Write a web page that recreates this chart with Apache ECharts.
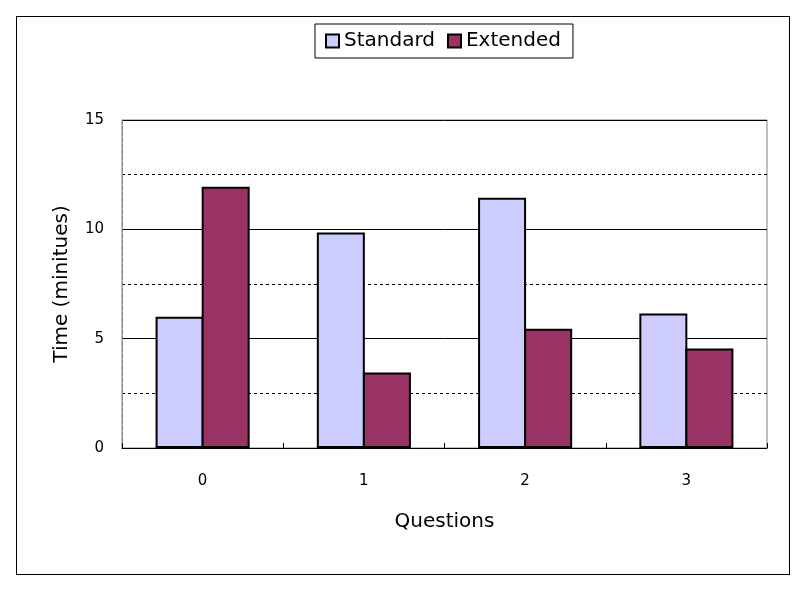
<!DOCTYPE html>
<html>
<head>
<meta charset="utf-8">
<script src="https://cdn.jsdelivr.net/npm/echarts@6/dist/echarts.min.js"></script>
<style>
    html, body { margin: 0; padding: 0; background: #ffffff; }
    #frame {
        position: absolute; left: 16px; top: 16px;
        width: 774px; height: 559px;
        border: 1px solid #000;
        box-sizing: border-box;
    }
    #chart { position: absolute; left: 0; top: 0; width: 807px; height: 592px; }
</style>
</head>
<body>
<div id="frame"></div>
<div id="chart"></div>
<script>
    var questions = ['0', '1', '2', '3'];
    var standard = [6.0, 9.85, 11.45, 6.15];
    var extended = [11.95, 3.45, 5.45, 4.55];

    var font = 'DejaVu Sans';

    echarts.init(document.getElementById('chart')).setOption({
        animation: false,
        textStyle: { fontFamily: font },
        legend: {
            top: 24,
            left: 315,
            itemWidth: 13,
            itemHeight: 13,
            itemGap: 12,
            padding: [7, 12, 7, 10],
            borderColor: '#000',
            borderWidth: 1,
            backgroundColor: '#fff',
            icon: 'rect',
            textStyle: { fontSize: 20, color: '#000', fontFamily: font },
            itemStyle: { borderColor: '#000', borderWidth: 2 },
            data: ['Standard', 'Extended']
        },
        grid: {
            left: 122, right: 40, top: 120, bottom: 144,
            show: true,
            borderColor: '#808080',
            borderWidth: 1
        },
        xAxis: {
            type: 'category',
            data: questions,
            name: 'Questions',
            nameLocation: 'middle',
            nameGap: 64,
            nameTextStyle: { fontSize: 20, color: '#000' },
            axisLine: { lineStyle: { color: '#000', width: 1 } },
            axisTick: { show: true, inside: true, length: 5, lineStyle: { color: '#000' } },
            axisLabel: { fontSize: 15, color: '#000', margin: 26 }
        },
        yAxis: {
            type: 'value',
            min: 0, max: 15, interval: 5,
            name: 'Time (minitues)',
            nameLocation: 'middle',
            nameGap: 50,
            nameTextStyle: { fontSize: 20, color: '#000' },
            axisLine: { show: true, lineStyle: { color: '#808080', type: 'dashed', width: 1 } },
            axisTick: { show: false },
            axisLabel: { fontSize: 15, color: '#000', margin: 18 },
            splitLine: { show: true, lineStyle: { color: '#000', width: 1 } },
            minorTick: { show: false, splitNumber: 2 },
            minorSplitLine: { show: true, lineStyle: { color: '#000', type: [3, 3], width: 1 } }
        },
        series: [
            {
                name: 'Standard',
                type: 'bar',
                data: standard,
                barGap: '-4%',
                barWidth: 48,
                itemStyle: { color: '#ccccff', borderColor: '#000', borderWidth: 2 }
            },
            {
                name: 'Extended',
                type: 'bar',
                data: extended,
                barWidth: 48,
                itemStyle: { color: '#993366', borderColor: '#000', borderWidth: 2 }
            }
        ]
    });
</script>
</body>
</html>
